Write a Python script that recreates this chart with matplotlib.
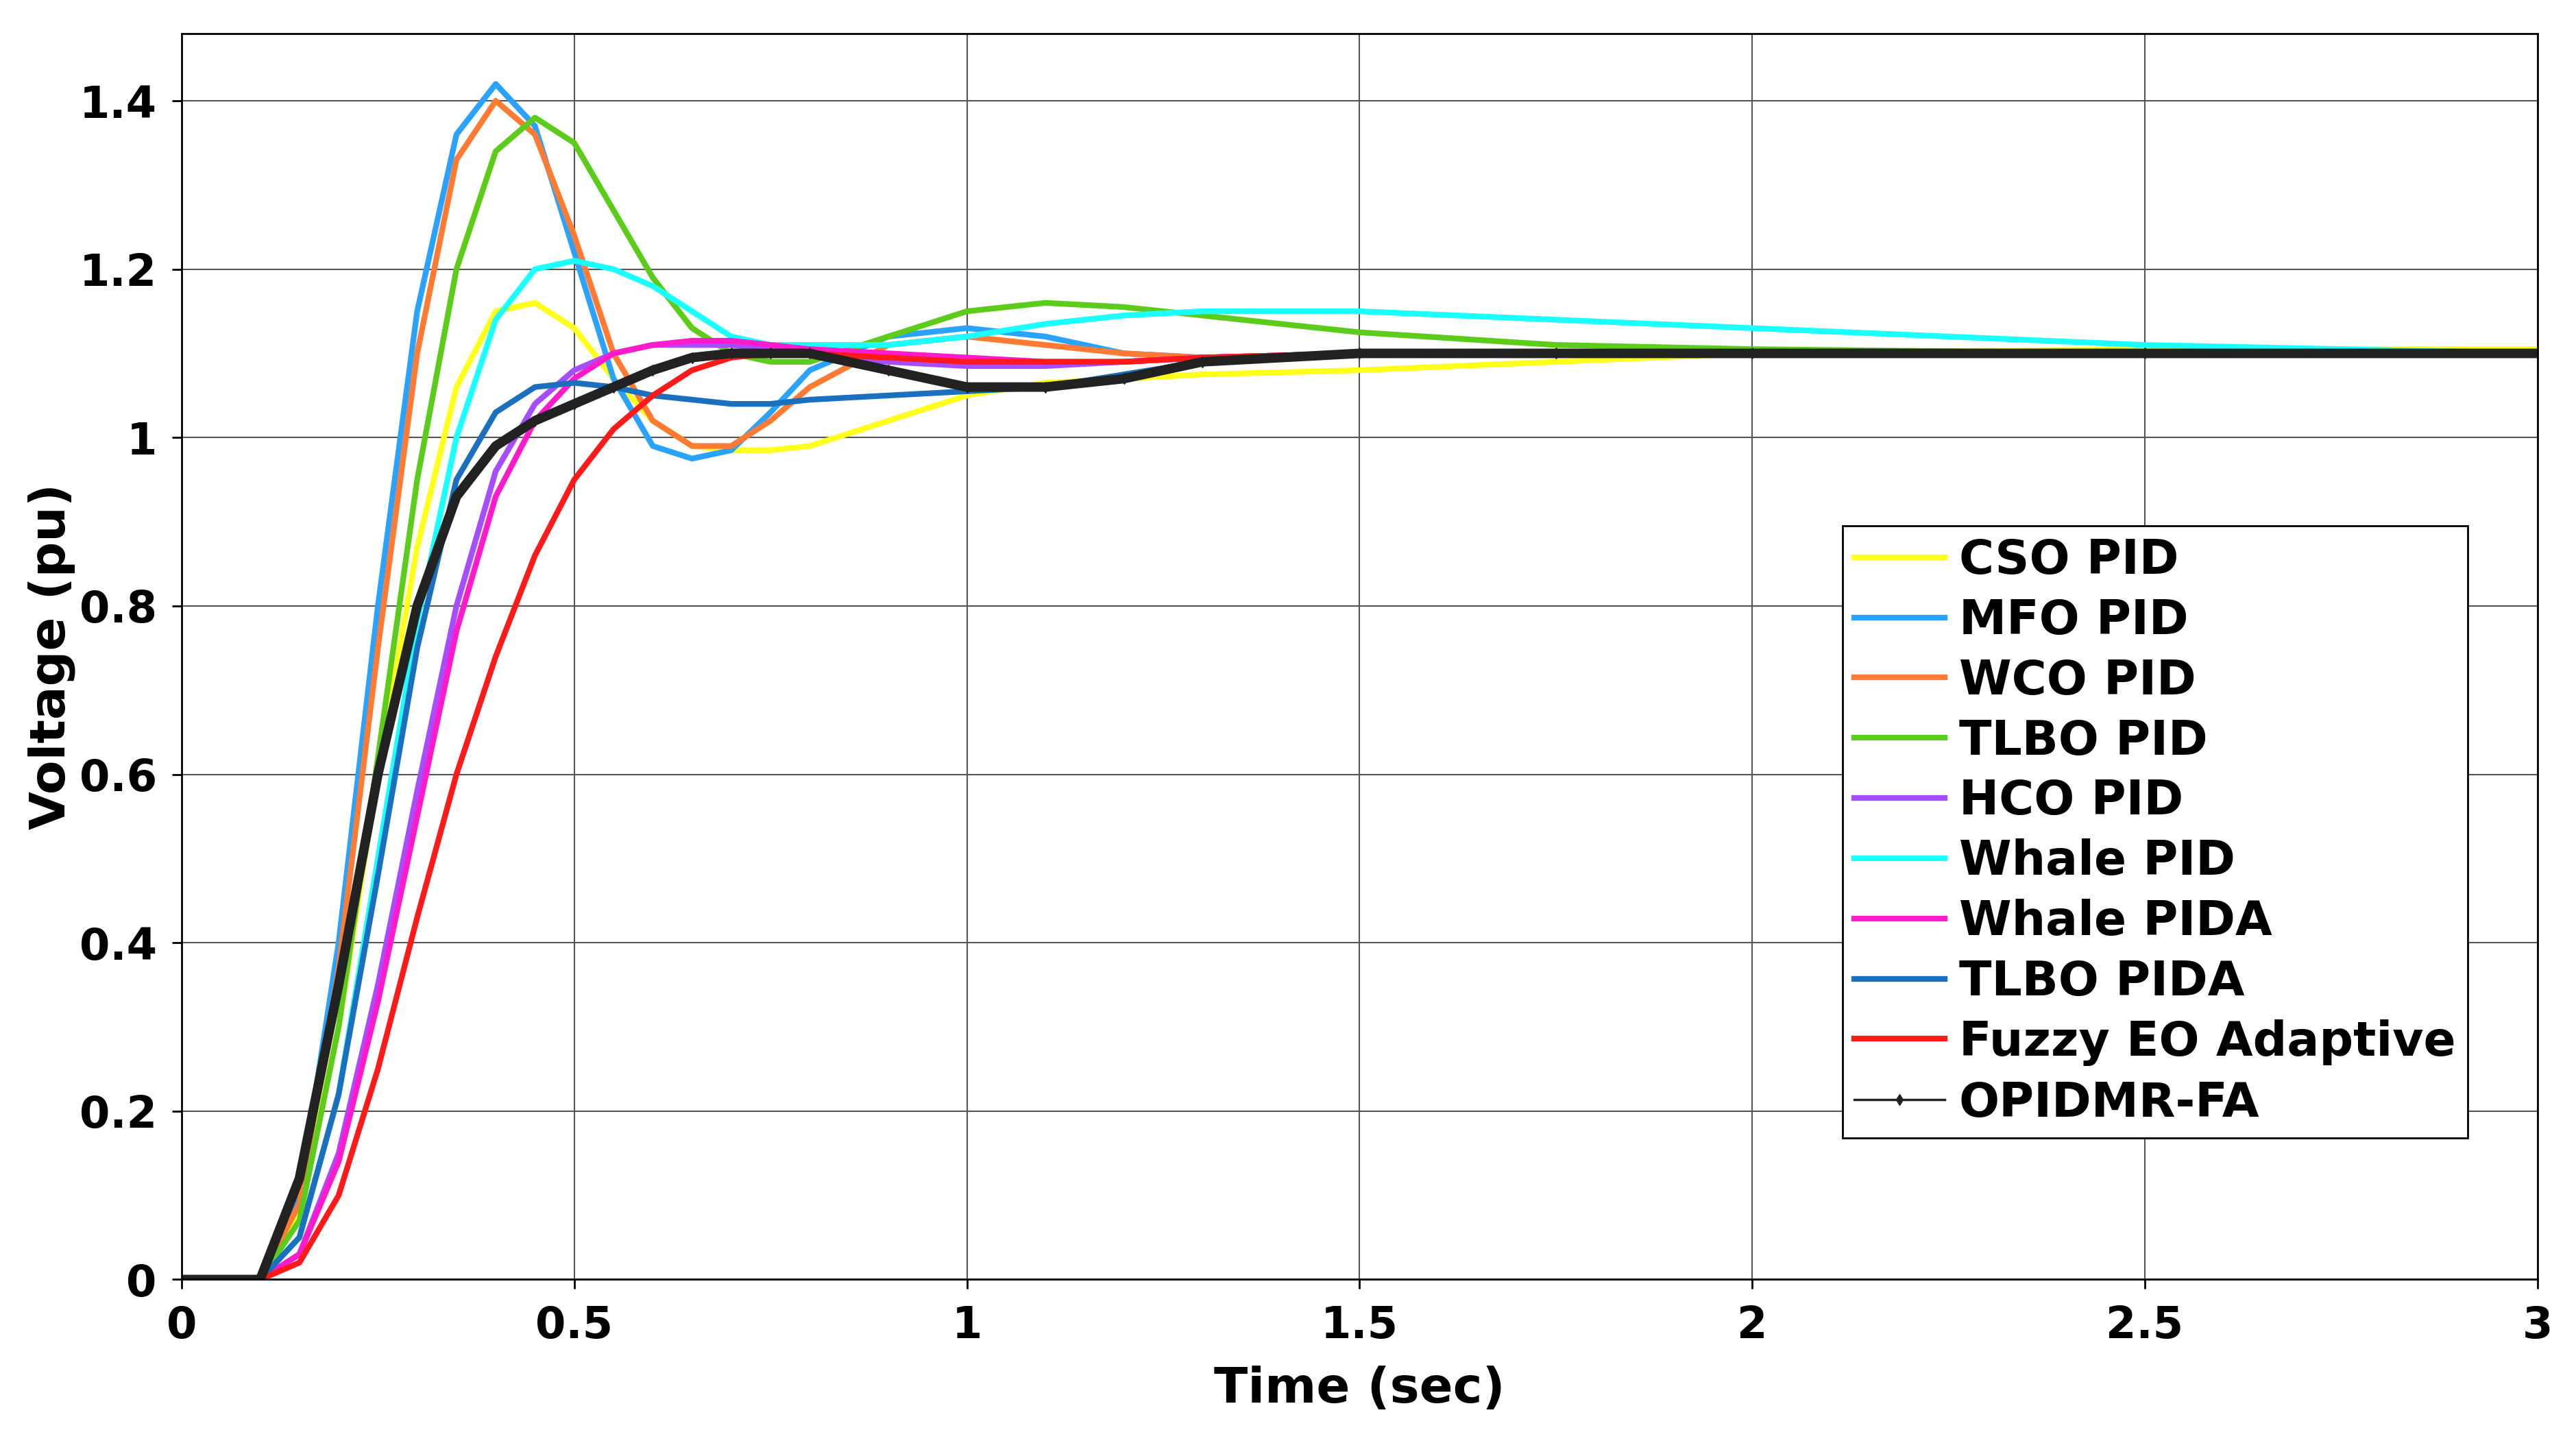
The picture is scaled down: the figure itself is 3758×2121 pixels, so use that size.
import matplotlib
matplotlib.use("Agg")
import matplotlib.pyplot as plt
from matplotlib.lines import Line2D

t = [0, 0.1, 0.15, 0.2, 0.25, 0.3, 0.35, 0.4, 0.45, 0.5, 0.55, 0.6, 0.65, 0.7, 0.75, 0.8,
     0.9, 1.0, 1.1, 1.2, 1.3, 1.5, 1.75, 2.0, 2.5, 3.0]

cso   = [0,0,0.08,0.3,0.6,0.87,1.06,1.15,1.16,1.13,1.07,1.02,0.99,0.985,0.985,0.99,1.02,1.05,1.065,1.07,1.075,1.08,1.09,1.1,1.105,1.105]
mfo   = [0,0,0.1,0.4,0.8,1.15,1.36,1.42,1.37,1.22,1.07,0.99,0.975,0.985,1.03,1.08,1.12,1.13,1.12,1.1,1.095,1.1,1.1,1.1,1.1,1.1]
wco   = [0,0,0.09,0.37,0.75,1.1,1.33,1.40,1.36,1.24,1.1,1.02,0.99,0.99,1.02,1.06,1.11,1.12,1.11,1.1,1.095,1.1,1.1,1.1,1.1,1.1]
tlbo  = [0,0,0.07,0.3,0.62,0.95,1.2,1.34,1.38,1.35,1.27,1.19,1.13,1.1,1.09,1.09,1.12,1.15,1.16,1.155,1.145,1.125,1.11,1.105,1.1,1.1]
hco   = [0,0,0.03,0.15,0.35,0.58,0.8,0.96,1.04,1.08,1.1,1.11,1.11,1.11,1.105,1.1,1.09,1.085,1.085,1.09,1.095,1.1,1.1,1.1,1.1,1.1]
whale = [0,0,0.05,0.22,0.5,0.78,1.0,1.14,1.2,1.21,1.2,1.18,1.15,1.12,1.11,1.11,1.11,1.12,1.135,1.145,1.15,1.15,1.14,1.13,1.11,1.1]
whpida= [0,0,0.03,0.14,0.33,0.55,0.77,0.93,1.02,1.07,1.1,1.11,1.115,1.115,1.11,1.105,1.1,1.095,1.09,1.09,1.095,1.1,1.1,1.1,1.1,1.1]
tlpida= [0,0,0.05,0.22,0.48,0.75,0.95,1.03,1.06,1.065,1.06,1.05,1.045,1.04,1.04,1.045,1.05,1.055,1.06,1.075,1.09,1.1,1.1,1.1,1.1,1.1]
fuzzy = [0,0,0.02,0.1,0.25,0.43,0.6,0.74,0.86,0.95,1.01,1.05,1.08,1.095,1.1,1.1,1.095,1.09,1.09,1.09,1.095,1.1,1.1,1.1,1.1,1.1]
opid  = [0,0,0.12,0.35,0.6,0.8,0.93,0.99,1.02,1.04,1.06,1.08,1.095,1.1,1.1,1.1,1.08,1.06,1.06,1.07,1.09,1.1,1.1,1.1,1.1,1.1]

series = [
    ("CSO PID", cso, "#ffff1a"),
    ("MFO PID", mfo, "#2aa2ff"),
    ("WCO PID", wco, "#ff7a33"),
    ("TLBO PID", tlbo, "#5ccc1a"),
    ("HCO PID", hco, "#a64dff"),
    ("Whale PID", whale, "#1affff"),
    ("Whale PIDA", whpida, "#ff1acc"),
    ("TLBO PIDA", tlpida, "#1a6fbf"),
    ("Fuzzy EO Adaptive", fuzzy, "#ff1a1a"),
]

plt.rcParams['font.family'] = ['DejaVu Sans']
fig = plt.figure(figsize=(37.58, 21.21), dpi=100)
ax = fig.add_axes([0.0705, 0.12, 0.9145, 0.857])
for name, y, c in series:
    ax.plot(t, y, color=c, lw=6, label=name)
ax.plot(t, opid, color="#222222", lw=10, marker="d", ms=8, label="_nolegend_")
handles, labels = ax.get_legend_handles_labels()
handles.append(Line2D([], [], color="#222222", lw=2.5, marker="d", ms=8))
labels.append("OPIDMR-FA")

ax.set_xlim(0, 3)
ax.set_ylim(0, 1.48)
ax.set_xticks([0, 0.5, 1, 1.5, 2, 2.5, 3])
ax.set_xticklabels(["0", "0.5", "1", "1.5", "2", "2.5", "3"])
ax.set_yticks([0, 0.2, 0.4, 0.6, 0.8, 1, 1.2, 1.4])
ax.set_yticklabels(["0", "0.2", "0.4", "0.6", "0.8", "1", "1.2", "1.4"])
ax.grid(True, color="#555555", lw=1.5)
ax.tick_params(labelsize=46, width=2, length=10, pad=16)
for lbl in ax.get_xticklabels() + ax.get_yticklabels():
    lbl.set_fontweight("bold")
for s in ax.spines.values():
    s.set_linewidth(2)
ax.set_xlabel("Time (sec)", fontsize=52, fontweight="bold", labelpad=20)
ax.set_ylabel("Voltage (pu)", fontsize=52, fontweight="bold")
leg = ax.legend(handles, labels, loc="upper left", bbox_to_anchor=(0.705, 0.605),
                prop={"size": 50, "weight": "bold"}, handlelength=1.9, handletextpad=0.3,
                labelspacing=0.3, borderpad=0.25, borderaxespad=0, fancybox=False,
                framealpha=1, edgecolor="black")
leg.get_frame().set_linewidth(2)
fig.savefig("out.png", dpi=100)
